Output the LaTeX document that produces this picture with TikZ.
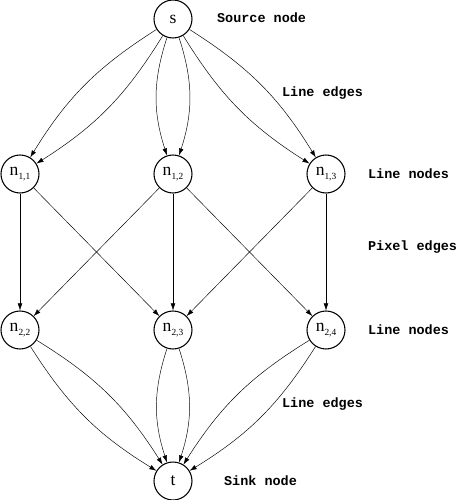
\documentclass[tikz,border=0pt]{standalone}
\usepackage{fontspec}
\setmainfont{Liberation Serif}
\setmonofont{Liberation Mono}
\usetikzlibrary{arrows.meta, positioning}

\newcommand{\nsub}[1]{n\raisebox{-0.5ex}{\fontsize{8}{9}\selectfont #1}}

\begin{document}
\begin{tikzpicture}[x=0.03cm, y=-0.03cm,
    vtx/.style={circle, draw, line width=0.9pt, minimum size=1.14cm, inner sep=0pt, font=\fontsize{15}{17}\selectfont},
    lbl/.style={anchor=west, font=\ttfamily\bfseries\fontsize{11.5}{13}\selectfont},
    edge/.style={-{Latex[length=6pt, width=4pt]}, line width=0.4pt}]
    \useasboundingbox (0,0) rectangle (474,500);

    % Source, line nodes and sink
    \node[vtx] (s) at (173,19) {s};
    \node[vtx] (n11) at (20,174) {\nsub{1,1}};
    \node[vtx] (n12) at (173,174) {\nsub{1,2}};
    \node[vtx] (n13) at (326,174) {\nsub{1,3}};
    \node[vtx] (n22) at (20,330) {\nsub{2,2}};
    \node[vtx] (n23) at (173,330) {\nsub{2,3}};
    \node[vtx] (n24) at (326,330) {\nsub{2,4}};
    \node[vtx] (t) at (173,481) {t};

    % Line edges (two per pair)
    \foreach \a/\b/\ang in {s/n11/13, s/n12/18, s/n13/13, n22/t/13, n23/t/18, n24/t/13} {
        \draw[edge] (\a) to[bend left=\ang] (\b);
        \draw[edge] (\a) to[bend right=\ang] (\b);
    }

    % Pixel edges
    \foreach \a/\b in {n11/n22, n11/n23, n12/n22, n12/n23, n12/n24, n13/n23, n13/n24}
        \draw[edge] (\a) -- (\b);

    % Labels
    \node[lbl] (src) at (213,18) {Source node};
    \node[lbl] (le1) at (278,93) {Line edges};
    \node[lbl] (ln1) at (364,174) {Line nodes};
    \node[lbl] (pe) at (364,247) {Pixel edges};
    \node[lbl] (ln2) at (364,330) {Line nodes};
    \node[lbl] (le2) at (278,404) {Line edges};
    \node[lbl] (snk) at (220,481) {Sink node};
\end{tikzpicture}
\end{document}
